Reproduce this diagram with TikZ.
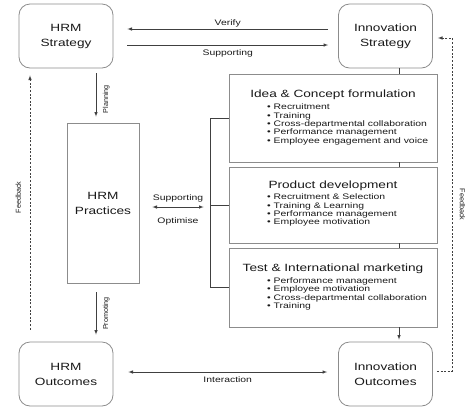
\documentclass[tikz,border=0pt]{standalone}
\usepackage{fontspec}
\setmainfont[FakeStretch=1.3]{Liberation Sans}
\newfontfamily\sidefont{Liberation Sans}
\usetikzlibrary{shapes,positioning,arrows,calc}

\tikzset{
  stratbox/.style={draw=black!45, line width=0.8pt, rounded corners=11pt, minimum width=94pt, minimum height=64pt, align=center, text=black!90, font=\fontsize{10.5}{15}\selectfont},
  stagebox/.style={draw=black!45, line width=0.8pt, minimum width=208pt},
  stagetitle/.style={inner sep=0pt, text=black!90, font=\fontsize{10.5}{12}\selectfont},
  stagelist/.style={anchor=north west, align=left, inner sep=0pt, text=black!90, font=\fontsize{8}{8.4}\selectfont},
  link/.style={draw=black!75, line width=0.6pt},
  flow/.style={link, -latex},
  feedback/.style={link, dash pattern=on 2pt off 1.6pt, -latex},
  tag/.style={text=black!90, font=\fontsize{8}{9}\selectfont},
  sidetag/.style={inner sep=0pt, text=black!90, font=\sidefont\fontsize{7.2}{8}\selectfont},
}

\begin{document}
\begin{tikzpicture}[x=1pt, y=-1pt]
        \useasboundingbox (0,0) rectangle (474,408);
        % Draw corner boxes
        \node[stratbox] (hrmstrat) at (66,36) {HRM\\Strategy};
        \node[stratbox] (innostrat) at (385.5,36) {Innovation\\Strategy};
        \node[stratbox] (hrmout) at (66,374) {HRM\\Outcomes};
        \node[stratbox] (innoout) at (385.5,374) {Innovation\\Outcomes};
        % Draw practices box
        \node[stratbox, rounded corners=0pt, minimum width=72pt, minimum height=160pt] (hrmprac) at (103,203) {HRM\\Practices};
        % Draw innovation stages
        \node[stagebox, minimum height=88pt] (ideabox) at (333,118) {};
        \node[stagetitle] (ideatitle) at ([yshift=-21pt]ideabox.north) {Idea \& Concept formulation};
        \node[stagelist] (idealist) at ([xshift=-66pt,yshift=-30pt]ideabox.north) {\textbullet\ Recruitment\\\textbullet\ Training\\\textbullet\ Cross-departmental collaboration\\\textbullet\ Performance management\\\textbullet\ Employee engagement and voice};
        \node[stagebox, minimum height=76pt] (prodbox) at (333,205) {};
        \node[stagetitle] (prodtitle) at ([yshift=-19pt]prodbox.north) {Product development};
        \node[stagelist] (prodlist) at ([xshift=-66pt,yshift=-27pt]prodbox.north) {\textbullet\ Recruitment \& Selection\\\textbullet\ Training \& Learning\\\textbullet\ Performance management\\\textbullet\ Employee motivation};
        \node[stagebox, minimum height=79pt] (testbox) at (333,287.5) {};
        \node[stagetitle] (testtitle) at ([yshift=-21pt]testbox.north) {Test \& International marketing};
        \node[stagelist] (testlist) at ([xshift=-66pt,yshift=-30pt]testbox.north) {\textbullet\ Performance management\\\textbullet\ Employee motivation\\\textbullet\ Cross-departmental collaboration\\\textbullet\ Training};
        % Strategy arrows
        \draw[flow] ([xshift=-10pt,yshift=7pt]innostrat.west) -- ([xshift=14pt,yshift=7pt]hrmstrat.east) node[midway, above, inner sep=1.5pt, tag] {Verify};
        \draw[flow] ([xshift=14pt,yshift=-9pt]hrmstrat.east) -- ([xshift=-10pt,yshift=-9pt]innostrat.west) node[midway, below, inner sep=4pt, tag] {Supporting};
        % Outcome arrow
        \draw[flow, latex-latex] ([xshift=15pt,yshift=2pt]hrmout.east) -- ([xshift=-11pt,yshift=2pt]innoout.west) node[midway, below, inner sep=4pt, tag] {Interaction};
        % Planning and promoting
        \draw[flow] ([xshift=30pt,yshift=-5pt]hrmstrat.south) -- ([xshift=-7pt,yshift=6pt]hrmprac.north) node[pos=0.6, sidetag, rotate=90, anchor=north, outer sep=7pt] {Planning};
        \draw[flow] ([xshift=-7pt,yshift=-9pt]hrmprac.south) -- ([xshift=30pt,yshift=7pt]hrmout.north) node[midway, sidetag, rotate=90, anchor=north, outer sep=7pt] {Promoting};
        % Bracket to the stages
        \draw[link] (ideabox.west) -- ++(-18,0) |- (testbox.west);
        \draw[link] (prodbox.west) -- ++(-18,0);
        \draw[flow, latex-latex] ([xshift=13pt,yshift=-4pt]hrmprac.east) -- ([xshift=-25pt,yshift=-2pt]prodbox.west) node[midway, above, inner sep=5pt, tag] {Supporting} node[midway, below, inner sep=10pt, tag] {Optimise};
        % Links between stages
        \draw[link] ([xshift=13.5pt]innostrat.south) -- ([xshift=66pt]ideabox.north);
        \draw[link] ([xshift=66pt]ideabox.south) -- ([xshift=66pt]prodbox.north);
        \draw[link] ([xshift=66pt]prodbox.south) -- ([xshift=66pt]testbox.north);
        \draw[flow] ([xshift=66pt]testbox.south) -- ([xshift=13.5pt,yshift=2pt]innoout.north);
        % Feedback loops
        \coordinate (fbtop) at ([xshift=-36pt,yshift=-7pt]hrmstrat.south);
        \coordinate (fbbottom) at ([xshift=-36pt,yshift=12pt]hrmout.north);
        \draw[feedback] (fbbottom) -- (fbtop) node[pos=0.52, sidetag, rotate=90, anchor=south, outer sep=9pt] {Feedback};
        \draw[feedback] ([xshift=4pt,yshift=3pt]innoout.east) -| ([xshift=19pt,yshift=-2pt]innostrat.east) node[pos=0.75, sidetag, rotate=-90, anchor=south, outer sep=8pt] {Feedback} -- ([xshift=5pt,yshift=-2pt]innostrat.east);
\end{tikzpicture}
\end{document}
